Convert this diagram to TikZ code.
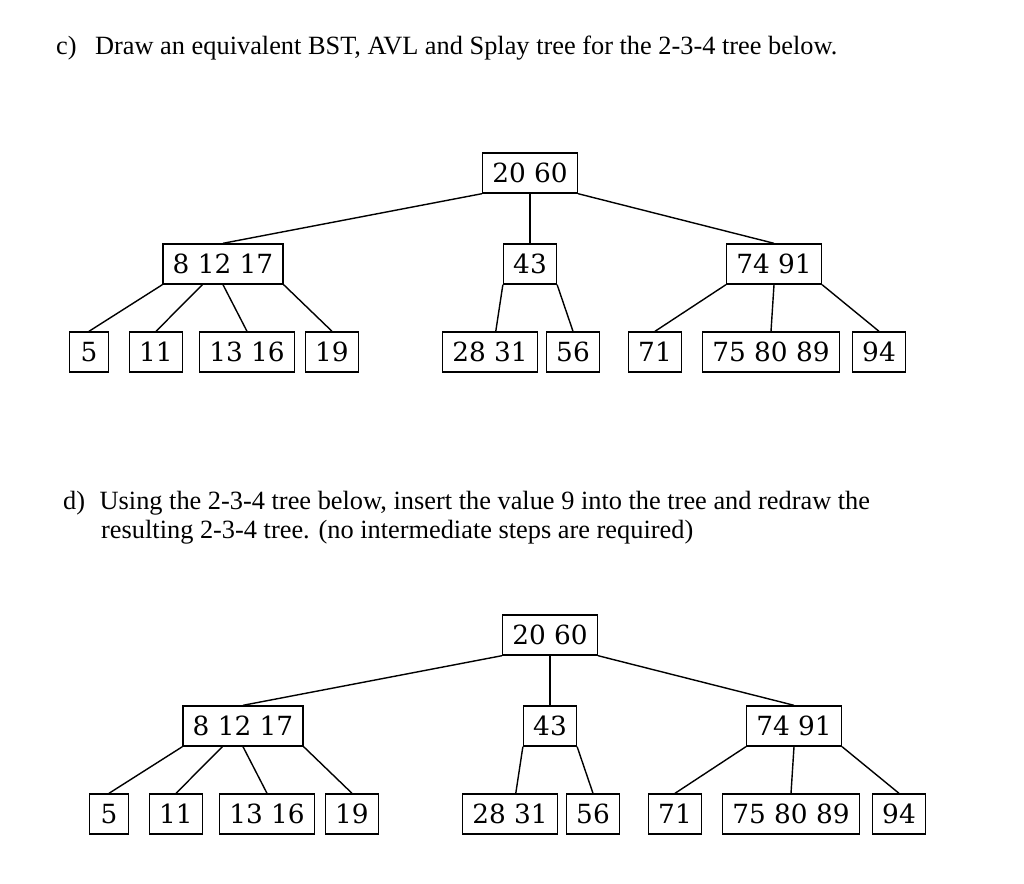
\documentclass[tikz,border=0pt]{standalone}
\usepackage{fontspec}
\setmainfont{Liberation Serif}
\newfontfamily\boxfont{DejaVu Serif}
\usetikzlibrary{calc}

\begin{document}
\begin{tikzpicture}
  [x=0.02cm, y=-0.02cm, key/.style={draw, thick, font=\boxfont\fontsize{15}{17}\selectfont, minimum height=0.8cm, minimum width=0.78cm, inner xsep=5.5pt, inner ysep=3pt},
   link/.style={draw, thick}, task/.style={anchor=west, font=\fontsize{15}{18}\selectfont}]
  \useasboundingbox (0,0) rectangle (1024,883);

  \node[task] (qc) at (50,48) {c)\hspace{0.7em}Draw an equivalent BST, AVL and Splay tree for the 2-3-4 tree below.};
  \node[task] (qd) at (57,503) {d)\hspace{0.55em}Using the 2-3-4 tree below, insert the value 9 into the tree and redraw the};
  \node[task] (qd2) at (95,532) {resulting 2-3-4 tree. (no intermediate steps are required)};

  \foreach \t/\dx/\dy in {c/0/0, d/20/462} {
  \begin{scope}[shift={(\dx,\dy)}]
  % top and middle level
  \node[key] (\t-root) at (530,173) {20 60};
  \node[key] (\t-left) at (223,264) {8 12 17};
  \node[key] (\t-mid) at (530,264) {43};
  \node[key] (\t-right) at (774,264) {74 91};
  % leaves
  \node[key] (\t-l1) at (89,352) {5};
  \node[key] (\t-l2) at (156,352) {11};
  \node[key] (\t-l3) at (247,352) {13 16};
  \node[key] (\t-l4) at (332,352) {19};
  \node[key] (\t-m1) at (490,352) {28 31};
  \node[key] (\t-m2) at (573,352) {56};
  \node[key] (\t-r1) at (655,352) {71};
  \node[key] (\t-r2) at (771,352) {75 80 89};
  \node[key] (\t-r3) at (879,352) {94};

  \draw[link] (\t-root.south west) -- (\t-left.north);
  \draw[link] (\t-root.south) -- (\t-mid.north);
  \draw[link] (\t-root.south east) -- (\t-right.north);

  \draw[link] (\t-left.south west) -- (\t-l1.north);
  \draw[link] ($(\t-left.south west)!0.33!(\t-left.south east)$) -- (\t-l2.north);
  \draw[link] (\t-left.south) -- (\t-l3.north);
  \draw[link] (\t-left.south east) -- (\t-l4.north);

  \draw[link] (\t-mid.south west) -- ($(\t-m1.north west)!0.56!(\t-m1.north east)$);
  \draw[link] (\t-mid.south east) -- (\t-m2.north);

  \draw[link] (\t-right.south west) -- (\t-r1.north);
  \draw[link] (\t-right.south) -- (\t-r2.north);
  \draw[link] (\t-right.south east) -- (\t-r3.north);
  \end{scope}
  }
\end{tikzpicture}
\end{document}
